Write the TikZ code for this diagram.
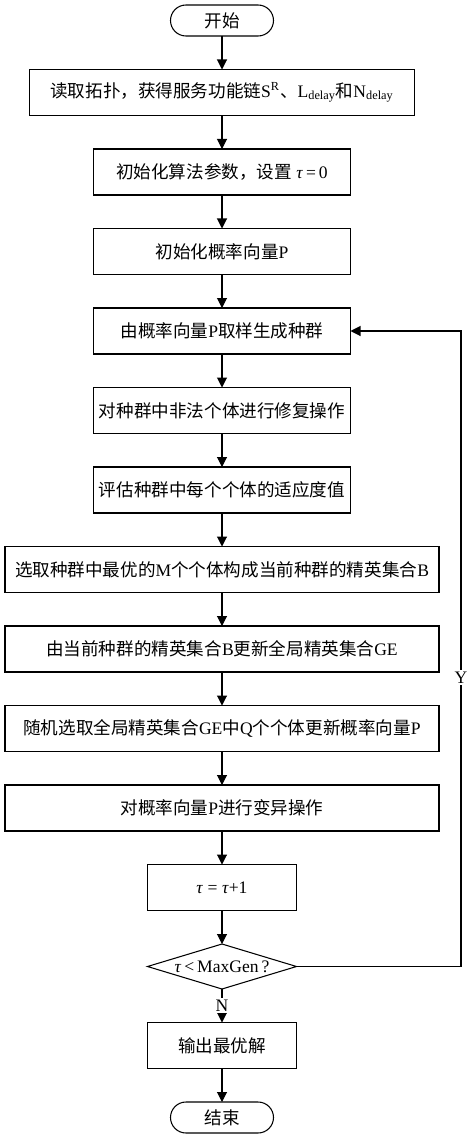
\documentclass[tikz,border=0pt]{standalone}
\usepackage{fontspec}
\setmainfont{Liberation Serif}
\newfontfamily\cjk{Noto Sans CJK SC}
\usetikzlibrary{positioning,shapes.geometric,arrows.meta}
\newcommand{\zh}[1]{{\cjk #1}}
\newcommand{\tauv}{\textit{τ}}
\tikzset{
  box/.style={draw, line width=0.6pt, outer sep=0pt, minimum height=0.92cm, align=center, font=\fontsize{10}{12}\selectfont},
  widebox/.style={box, minimum width=8.68cm},
  midbox/.style={box, minimum width=5.14cm},
  smallbox/.style={box, minimum width=2.98cm},
  term/.style={draw, line width=0.6pt, outer sep=0pt, rounded corners=0.31cm, minimum width=2.06cm, minimum height=0.62cm, font=\fontsize{10}{12}\selectfont},
  dec/.style={draw, diamond, aspect=3.3, inner sep=0pt, outer sep=0pt, line width=0.6pt, minimum width=2.98cm, minimum height=0.9cm, font=\fontsize{10}{12}\selectfont},
  arr/.style={draw, line width=0.6pt, -{Triangle[length=0.2cm,width=0.2cm]}},
  lab/.style={fill=white, inner sep=1pt, font=\fontsize{10}{12}\selectfont},
}
\begin{document}
\begin{tikzpicture}[node distance=0.67cm]
  \useasboundingbox (0,0) rectangle (9.48,-22.78);
  \node[term] (start) at (4.44,-0.41) {\zh{开始}};
  \node[box, minimum width=7.7cm, below=of start] (read) {\zh{读取拓扑，获得服务功能链}S\textsuperscript{R}\zh{、}L\textsubscript{delay}\zh{和}N\textsubscript{delay}};
  \node[midbox, below=of read] (init) {\zh{初始化算法参数，设置} \tauv\,=\,0};
  \node[midbox, below=of init] (initp) {\zh{初始化概率向量}P};
  \node[midbox, below=of initp] (sample) {\zh{由概率向量}P\zh{取样生成种群}};
  \node[midbox, below=of sample] (repair) {\zh{对种群中非法个体进行修复操作}};
  \node[midbox, below=of repair] (eval) {\zh{评估种群中每个个体的适应度值}};
  \node[widebox, below=of eval] (elite) {\zh{选取种群中最优的}M\zh{个个体构成当前种群的精英集合}B};
  \node[widebox, below=of elite] (glob) {\zh{由当前种群的精英集合}B\zh{更新全局精英集合}GE};
  \node[widebox, below=of glob] (upd) {\zh{随机选取全局精英集合}GE\zh{中}Q\zh{个个体更新概率向量}P};
  \node[widebox, below=of upd] (mut) {\zh{对概率向量}P\zh{进行变异操作}};
  \node[smallbox, below=of mut] (inc) {\tauv\ =\ \tauv+1};
  \node[dec, below=of inc] (chk) {\tauv\,<\,MaxGen\,?};
  \node[smallbox, below=of chk] (out) {\zh{输出最优解}};
  \node[term, below=of out] (stop) {\zh{结束}};
  \coordinate (edge) at (9.22,0);
  % main flow
  \foreach \a/\b in {start/read, read/init, init/initp, initp/sample, sample/repair,
      repair/eval, eval/elite, elite/glob, glob/upd, upd/mut, mut/inc, inc/chk, out/stop}
    \draw[arr] (\a) -- (\b);
  \draw[arr] (chk) -- node[lab]{N} (out);
  % loop back
  \draw[arr] (chk.east) -- (chk.east -| edge) -- node[lab, pos=0.455]{Y} (sample.east -| edge) -- (sample.east);
\end{tikzpicture}
\end{document}
